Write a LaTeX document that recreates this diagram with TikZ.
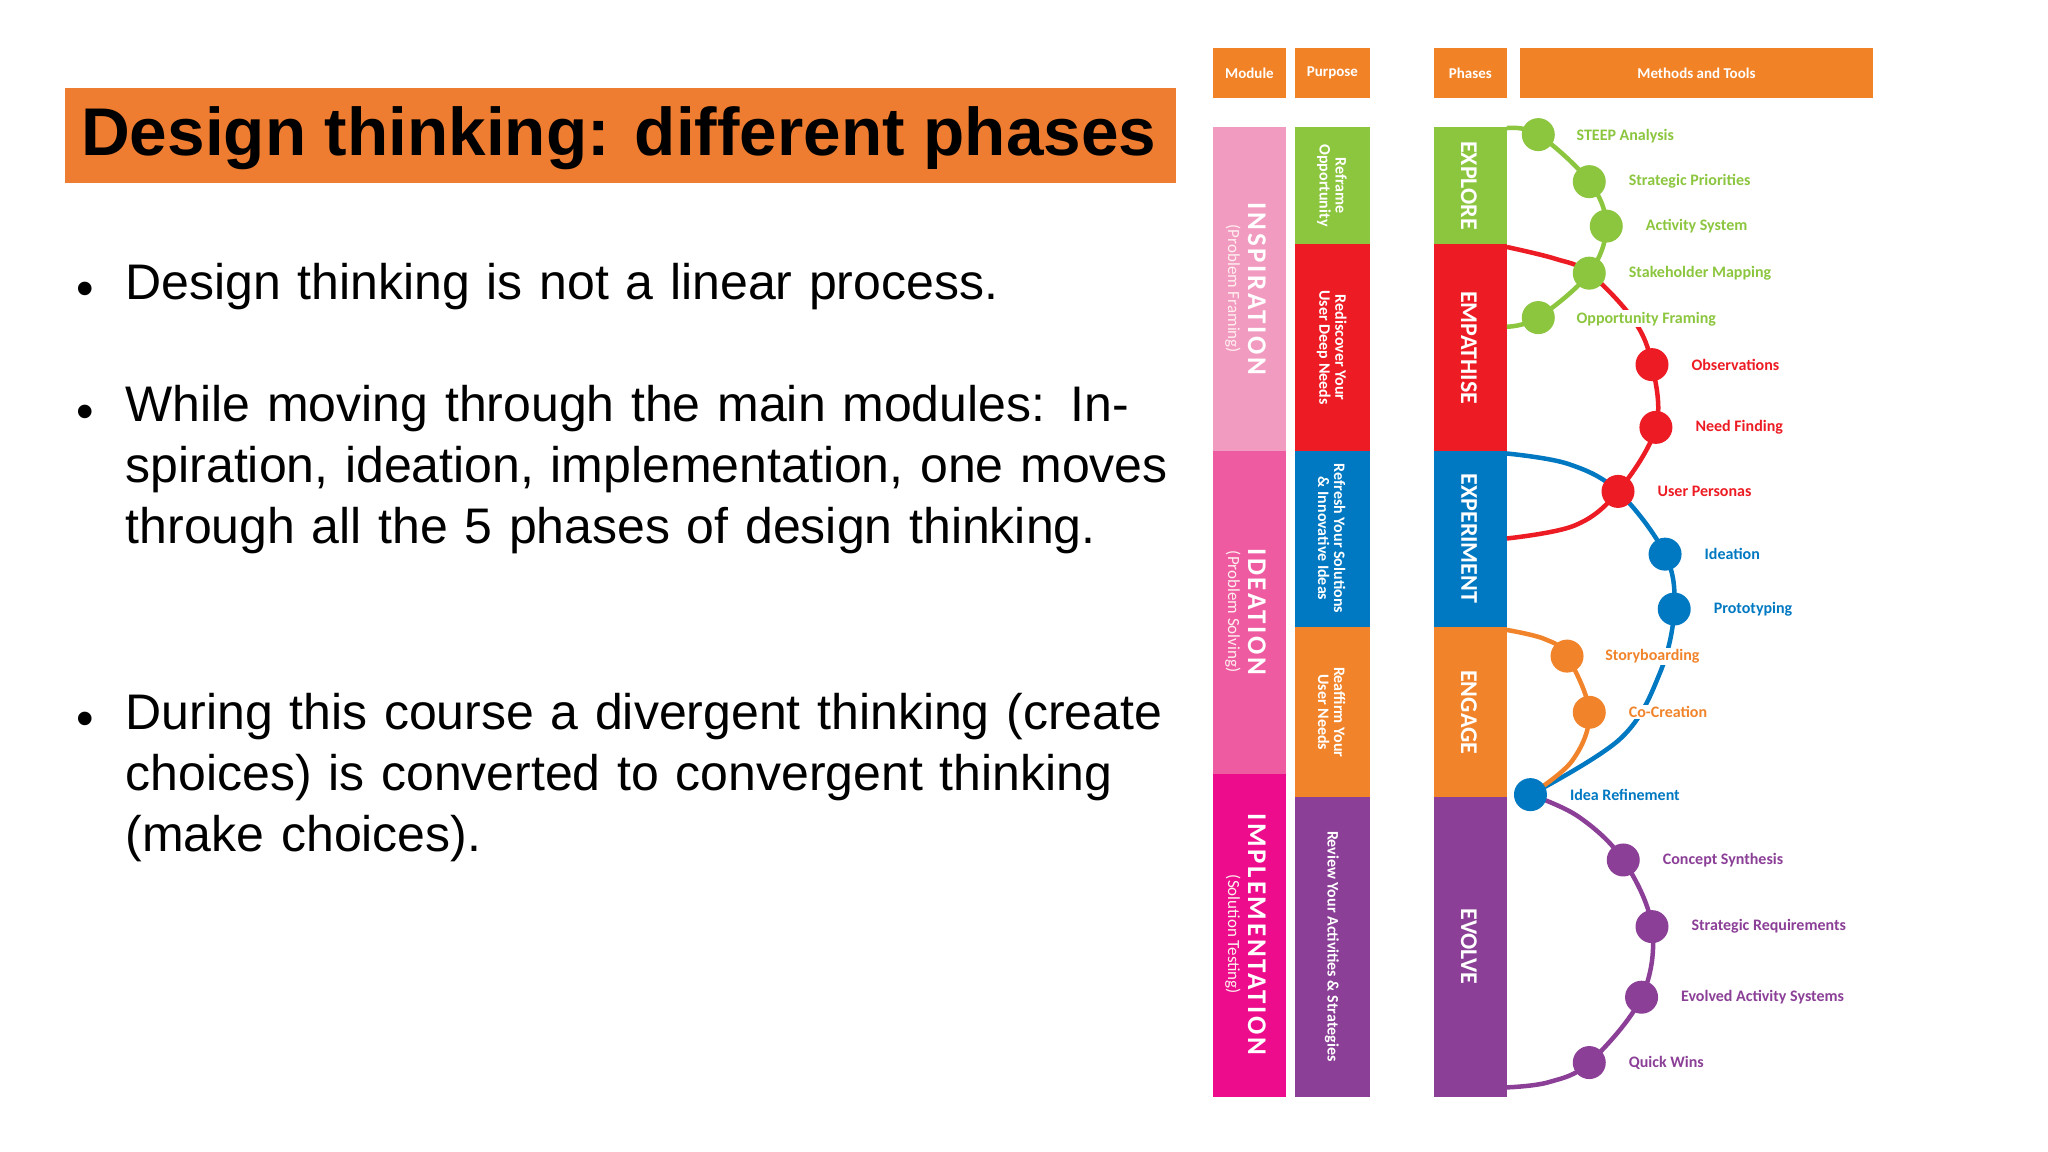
\documentclass[tikz,border=0pt]{standalone}
\usepackage{fontspec}
\setmainfont{Liberation Sans}
\newfontfamily\carl{Carlito}
\newfontfamily\carlsp[LetterSpace=10]{Carlito}
\definecolor{hdr}{HTML}{F18226}
\definecolor{ttl}{HTML}{EF7D31}
\definecolor{pkA}{HTML}{F29BC0}
\definecolor{pkB}{HTML}{EE5BA1}
\definecolor{pkC}{HTML}{EC0C8C}
\definecolor{cG}{HTML}{8CC63F}
\definecolor{cR}{HTML}{ED1C24}
\definecolor{cB}{HTML}{0079C2}
\definecolor{cO}{HTML}{F1842A}
\definecolor{cP}{HTML}{8B3F97}
\tikzset{
 hdrtxt/.style={text=white,font=\carl\bfseries\fontsize{15}{17}\selectfont},
 modtxt/.style={text=white,rotate=-90,align=center,font=\carlsp\bfseries\fontsize{27}{22}\selectfont},
 purtxt/.style={text=white,rotate=-90,align=center,font=\carl\bfseries\fontsize{16}{16}\selectfont},
 phtxt/.style={text=white,rotate=-90,font=\carl\bfseries\fontsize{24}{24}\selectfont},
 dot/.style={circle,fill=#1,minimum size=33pt,inner sep=0pt},
 lbl/.style={text=#1,fill=white,anchor=west,inner sep=1.5pt,font=\carl\bfseries\fontsize{16}{18}\selectfont},
 arc/.style={draw=#1,line width=4.5pt},
 bul/.style={anchor=north west,inner sep=0pt,align=left,text width=1045pt,font=\fontsize{50}{61}\selectfont},
 bdot/.style={anchor=base west,inner sep=0pt,font=\fontsize{50}{61}\selectfont},
}
\newcommand{\subt}[1]{{\carl\mdseries\fontsize{17}{17}\selectfont\color{white!75!pink}#1}}
\begin{document}
\begin{tikzpicture}[x=1.307pt,y=-1.307pt]
\useasboundingbox (0,0) rectangle (1567,881.4);
\fill[white] (0,0) rectangle (1567,881.4);
% title
\fill[ttl] (50,67) rectangle (900,140);
\node[anchor=west,inner sep=0pt] (title) at (62,106) {\fontsize{67.5}{72}\selectfont\bfseries Design thinking: different phases};
% bullets
\node[bdot] (d1) at (58,234) {\textbullet};
\node[bul] (b1) at (96,201) {Design thinking is not a linear process.};
\node[bdot] (d2) at (58,328) {\textbullet};
\node[bul] (b2) at (96,295) {While moving through the main modules: Inspiration, ideation, implementation, one moves through all the 5 phases of design thinking.};
\node[bdot] (d3) at (58,563) {\textbullet};
\node[bul] (b3) at (96,530) {During this course a divergent thinking (create choices) is converted to convergent thinking (make choices).};
% headers
\fill[hdr] (928,37) rectangle (984,75); \node[hdrtxt] (hm) at (956,56) {Module};
\fill[hdr] (991,37) rectangle (1048,75); \node[hdrtxt] (hp) at (1019.5,56) {Purpose};
\fill[hdr] (1097,37) rectangle (1153,75); \node[hdrtxt] (hph) at (1125,56) {Phases};
\fill[hdr] (1163,37) rectangle (1433,75); \node[hdrtxt] (hmt) at (1298,56) {Methods and Tools};
% module column
\fill[pkA] (928,97) rectangle (984,345);
\fill[pkB] (928,345) rectangle (984,592);
\fill[pkC] (928,592) rectangle (984,839);
\node[modtxt] (m1) at (953,221) {INSPIRATION\\[-2pt]\subt{(Problem Framing)}};
\node[modtxt] (m2) at (953,468) {IDEATION\\[-2pt]\subt{(Problem Solving)}};
\node[modtxt] (m3) at (953,715) {IMPLEMENTATION\\[-2pt]\subt{(Solution Testing)}};
% purpose column
\fill[cG] (991,97) rectangle (1048,187);
\fill[cR] (991,187) rectangle (1048,345);
\fill[cB] (991,345) rectangle (1048,480);
\fill[cO] (991,480) rectangle (1048,610);
\fill[cP] (991,610) rectangle (1048,839);
\node[purtxt] (p1) at (1019,142) {Reframe\\Opportunity};
\node[purtxt] (p2) at (1019,266) {Rediscover Your\\User Deep Needs};
\node[purtxt] (p3) at (1019,412) {Refresh Your Solutions\\\& Innovative Ideas};
\node[purtxt] (p4) at (1019,545) {Reaffirm Your\\User Needs};
\node[purtxt] (p5) at (1019,724) {Review Your Activities \& Strategies};
% phase column
\fill[cG] (1097,97) rectangle (1153,187);
\fill[cR] (1097,187) rectangle (1153,345);
\fill[cB] (1097,345) rectangle (1153,480);
\fill[cO] (1097,480) rectangle (1153,610);
\fill[cP] (1097,610) rectangle (1153,839);
\node[phtxt] (f1) at (1124,142) {EXPLORE};
\node[phtxt] (f2) at (1124,266) {EMPATHISE};
\node[phtxt] (f3) at (1124,412) {EXPERIMENT};
\node[phtxt] (f4) at (1124,545) {ENGAGE};
\node[phtxt] (f5) at (1124,724) {EVOLVE};
% anchors
\coordinate (g0) at (1153,98); \coordinate (g9) at (1153,250);
\coordinate (r0) at (1153,189); \coordinate (r9) at (1153,412);
\coordinate (bl0) at (1153,347);
\coordinate (o0) at (1153,482);
\coordinate (pu9) at (1153,832);
\coordinate (n1) at (1177,103); \coordinate (n2) at (1216,139); \coordinate (n3) at (1229,173);
\coordinate (n4) at (1216,209); \coordinate (n5) at (1177,243);
\coordinate (n6) at (1264,279); \coordinate (n7) at (1267,327); \coordinate (n8) at (1238,376);
\coordinate (n9) at (1274,424); \coordinate (n10) at (1281,466);
\coordinate (n11) at (1199,502); \coordinate (n12) at (1216,545); \coordinate (n13) at (1171,608);
\coordinate (n14) at (1242,658); \coordinate (n15) at (1264,709); \coordinate (n16) at (1256,763); \coordinate (n17) at (1216,813);
% arcs
\draw[arc=cB] plot[smooth,tension=0.6] coordinates {(bl0) (1200,355) (n8) (n9) (n10) (1270,515) (1240,565) (n13)};
\draw[arc=cR] plot[smooth,tension=0.6] coordinates {(r0) (1190,198) (n4) (1250,245) (n6) (n7) (n8) (1205,402) (r9)};
\draw[arc=cG] plot[smooth,tension=0.6] coordinates {(g0) (n1) (n2) (n3) (n4) (n5) (g9)};
\draw[arc=cO] plot[smooth,tension=0.6] coordinates {(o0) (1182,489) (n11) (n12) (1203,582) (n13)};
\draw[arc=cP] plot[smooth,tension=0.6] coordinates {(n13) (1208,625) (n14) (n15) (n16) (n17) (1185,828) (pu9)};
% dots
\foreach \n/\c in {1/cG,2/cG,3/cG,4/cG,5/cG,6/cR,7/cR,8/cR,9/cB,10/cB,11/cO,12/cO,13/cB,14/cP,15/cP,16/cP,17/cP}
  \node[dot=\c] (c\n) at (n\n) {};
% labels
\node[lbl=cG] (l1) at (1205,104) {STEEP Analysis};
\node[lbl=cG] (l2) at (1245,139) {Strategic Priorities};
\node[lbl=cG] (l3) at (1258,173) {Activity System};
\node[lbl=cG] (l4) at (1245,209) {Stakeholder Mapping};
\node[lbl=cG] (l5) at (1205,244) {Opportunity Framing};
\node[lbl=cR] (l6) at (1293,279) {Observations};
\node[lbl=cR] (l7) at (1296,327) {Need Finding};
\node[lbl=cR] (l8) at (1267,376) {User Personas};
\node[lbl=cB] (l9) at (1303,424) {Ideation};
\node[lbl=cB] (l10) at (1310,466) {Prototyping};
\node[lbl=cO] (l11) at (1227,502) {Storyboarding};
\node[lbl=cO] (l12) at (1245,545) {Co-Creation};
\node[lbl=cB] (l13) at (1200,608) {Idea Refinement};
\node[lbl=cP] (l14) at (1271,658) {Concept Synthesis};
\node[lbl=cP] (l15) at (1293,709) {Strategic Requirements};
\node[lbl=cP] (l16) at (1285,763) {Evolved Activity Systems};
\node[lbl=cP] (l17) at (1245,813) {Quick Wins};
\end{tikzpicture}
\end{document}
